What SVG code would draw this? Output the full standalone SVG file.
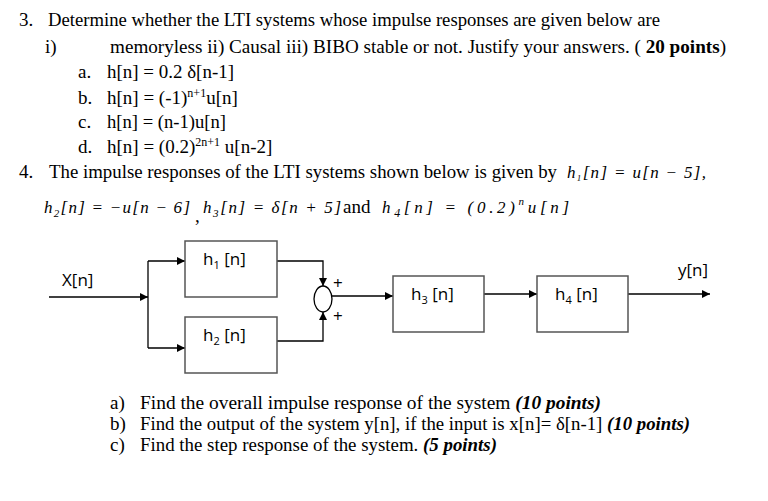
<svg xmlns="http://www.w3.org/2000/svg" width="768" height="501" viewBox="0 0 768 501">
<defs>
<style>
.t{font-family:"Liberation Serif",serif;font-size:19px;fill:#000}
.m{font-family:"Liberation Serif",serif;font-style:italic;font-size:17px;fill:#000}
.s{font-family:"Open Sans","DejaVu Sans",sans-serif;font-size:17px;fill:#000}
.sub{font-size:11px}
.box{fill:#fff;stroke:#555;stroke-width:1.5}
.ln{fill:none;stroke:#000;stroke-width:1.3}
</style>
<marker id="ar" viewBox="0 0 10 10" refX="10" refY="5" markerWidth="8" markerHeight="8" markerUnits="userSpaceOnUse" orient="auto"><path d="M0,0L10,5L0,10z" fill="#000"/></marker>
</defs>
<rect width="768" height="501" fill="#fff"/>
<g id="text">
<text class="t" x="19" y="26">3.</text>
<text class="t" x="48" y="26" textLength="612" lengthAdjust="spacingAndGlyphs">Determine whether the LTI systems whose impulse responses are given below are</text>
<text class="t" x="45" y="53">i)</text>
<text class="t" x="110" y="53" textLength="616" lengthAdjust="spacingAndGlyphs">memoryless   ii) Causal   iii) BIBO stable or not. Justify your answers. ( <tspan font-weight="bold">20 points</tspan>)</text>
<text class="t" x="78" y="78">a.</text><text class="t" x="107" y="78" textLength="127" lengthAdjust="spacingAndGlyphs">h[n] = 0.2 δ[n-1]</text>
<text class="t" x="78" y="104">b.</text><text class="t" x="107" y="104">h[n] = (-1)<tspan font-size="12" dy="-7">n+1</tspan><tspan dy="7">u[n]</tspan></text>
<text class="t" x="78" y="128">c.</text><text class="t" x="107" y="128" textLength="119" lengthAdjust="spacingAndGlyphs">h[n] = (n-1)u[n]</text>
<text class="t" x="78" y="153">d.</text><text class="t" x="107" y="153">h[n] = (0.2)<tspan font-size="12" dy="-7">2n+1</tspan><tspan dy="7"> u[n-2]</tspan></text>
<text class="t" x="19" y="178">4.</text>
<text class="t" x="49" y="178" textLength="508" lengthAdjust="spacingAndGlyphs">The impulse responses of the LTI systems shown below  is given by</text>
<text class="m" x="567" y="178" font-size="15" textLength="139">h<tspan font-size="9" dy="3">1</tspan><tspan dy="-3">[n] = u[n − 5],</tspan></text>
<text class="m" x="44" y="213" font-size="18" textLength="146">h<tspan font-size="11" dy="4">2</tspan><tspan dy="-4">[n] = −u[n − 6]</tspan></text>
<text class="t" x="195" y="222" font-size="11">,</text>
<text class="m" x="203" y="213" font-size="18" textLength="138">h<tspan font-size="11" dy="4">3</tspan><tspan dy="-4">[n] = δ[n + 5]</tspan></text>
<text class="t" x="343" y="213" font-size="18">and</text>
<text class="m" x="382" y="213" font-size="20" textLength="187">h<tspan font-size="12" dy="4">4</tspan><tspan dy="-4">[n] = (0.2)</tspan><tspan font-size="11" dy="-8">n</tspan><tspan dy="8">u[n]</tspan></text>
<text class="t" x="110" y="409" font-size="17">a)</text><text class="t" x="140" y="409" font-size="17" textLength="461" lengthAdjust="spacingAndGlyphs">Find the overall impulse response of the  system  <tspan font-style="italic" font-weight="bold">(10  points)</tspan></text>
<text class="t" x="110" y="430" font-size="17">b)</text><text class="t" x="140" y="430" font-size="17" textLength="550" lengthAdjust="spacingAndGlyphs">Find the output of the system y[n], if the input is x[n]= δ[n-1]  <tspan font-style="italic" font-weight="bold">(10 points)</tspan></text>
<text class="t" x="110" y="451" font-size="17">c)</text><text class="t" x="140" y="451" font-size="17" textLength="357" lengthAdjust="spacingAndGlyphs">Find the step response of the system.  <tspan font-style="italic" font-weight="bold">(5 points)</tspan></text>
</g>
<g id="connectors">
<path class="ln" d="M49,297H148" marker-end="url(#ar)"/>
<path class="ln" d="M148,261V348"/>
<path class="ln" d="M148,261H185" marker-end="url(#ar)"/>
<path class="ln" d="M148,348H185" marker-end="url(#ar)"/>
<path class="ln" d="M277,261H323V286" marker-end="url(#ar)"/>
<path class="ln" d="M277,341H323V312" marker-end="url(#ar)"/>
<path class="ln" d="M332,296H393" marker-end="url(#ar)"/>
<path class="ln" d="M484,294H537" marker-end="url(#ar)"/>
<path class="ln" d="M628,294H710" marker-end="url(#ar)"/>
</g>
<g id="x"><text class="s" x="62" y="286" font-size="15">X[n]</text></g>
<g id="y"><text class="s" x="678" y="276" font-size="15">y[n]</text></g>
<g id="h1"><rect class="box" x="185" y="241" width="92" height="56"/><text class="s" x="203" y="265">h<tspan class="sub" dy="4">1</tspan><tspan dy="-4"> [n]</tspan></text></g>
<g id="h2"><rect class="box" x="185" y="317" width="92" height="56"/><text class="s" x="203" y="341">h<tspan class="sub" dy="4">2</tspan><tspan dy="-4"> [n]</tspan></text></g>
<g id="sum"><ellipse cx="323" cy="299" rx="9" ry="13" fill="#fff" stroke="#000" stroke-width="1.3"/>
<text class="s" x="333" y="289" font-size="11">+</text><text class="s" x="333" y="322" font-size="11">+</text></g>
<g id="h3"><rect class="box" x="393" y="276" width="91" height="56"/><text class="s" x="411" y="300">h<tspan class="sub" dy="4">3</tspan><tspan dy="-4"> [n]</tspan></text></g>
<g id="h4"><rect class="box" x="537" y="276" width="91" height="56"/><text class="s" x="555" y="300">h<tspan class="sub" dy="4">4</tspan><tspan dy="-4"> [n]</tspan></text></g>
</svg>
